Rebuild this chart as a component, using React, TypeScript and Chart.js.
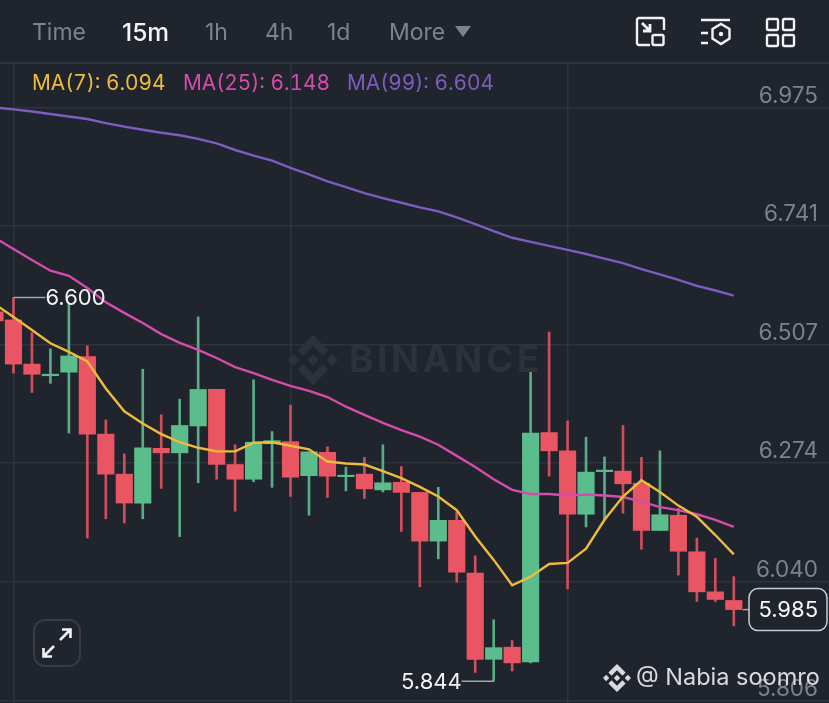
import React, { useEffect, useRef } from "react";
import { Chart, registerables } from "chart.js";

Chart.register(...registerables);

const candleIndex = [0,1,2,3,4,5,6,7,8,9,10,11,12,13,14,15,16,17,18,19,20,21,22,23,24,25,26,27,28,29,30,31,32,33,34,35,36,37,38,39,40];
const opens = [6.572,6.556,6.469,6.446,6.453,6.484,6.331,6.252,6.195,6.303,6.294,6.347,6.419,6.271,6.242,6.312,6.316,6.249,6.295,6.247,6.252,6.221,6.236,6.216,6.120,6.161,6.057,5.887,5.911,5.882,6.334,6.298,6.173,6.257,6.258,6.234,6.141,6.171,6.099,6.020,6.003];
const closes = [6.554,6.469,6.449,6.449,6.485,6.331,6.252,6.195,6.304,6.294,6.348,6.419,6.271,6.242,6.315,6.318,6.246,6.296,6.248,6.250,6.223,6.235,6.216,6.120,6.161,6.059,5.887,5.910,5.880,6.333,6.298,6.173,6.256,6.260,6.233,6.141,6.172,6.100,6.020,6.005,5.985];
const highs = [6.585,6.600,6.531,6.499,6.589,6.505,6.359,6.292,6.459,6.369,6.400,6.562,6.419,6.310,6.438,6.336,6.388,6.296,6.306,6.266,6.285,6.310,6.267,6.216,6.226,6.178,6.091,5.965,5.924,6.456,6.532,6.357,6.325,6.286,6.348,6.285,6.298,6.185,6.126,6.086,6.050];
const lows = [6.546,6.451,6.413,6.431,6.333,6.126,6.164,6.156,6.164,6.224,6.129,6.235,6.242,6.179,6.237,6.226,6.208,6.171,6.206,6.219,6.204,6.217,6.139,6.030,6.085,6.039,5.861,5.844,5.864,5.880,6.248,6.026,6.148,6.162,6.175,6.104,6.141,6.053,6.001,6.001,5.953];
const ma7 = [6.587,6.562,6.536,6.510,6.493,6.474,6.421,6.376,6.352,6.331,6.315,6.304,6.297,6.297,6.314,6.315,6.308,6.301,6.277,6.273,6.271,6.258,6.244,6.227,6.208,6.181,6.129,6.083,6.033,6.050,6.075,6.077,6.105,6.162,6.208,6.240,6.217,6.190,6.168,6.132,6.094];
const ma25 = [6.718,6.696,6.674,6.653,6.643,6.619,6.591,6.570,6.550,6.528,6.511,6.497,6.481,6.463,6.451,6.438,6.426,6.416,6.404,6.385,6.369,6.353,6.339,6.326,6.310,6.288,6.266,6.242,6.221,6.213,6.213,6.210,6.212,6.210,6.207,6.198,6.187,6.181,6.173,6.162,6.148];
const ma99 = [6.975,6.971,6.967,6.962,6.957,6.952,6.944,6.937,6.931,6.925,6.920,6.913,6.904,6.891,6.880,6.870,6.856,6.843,6.829,6.818,6.806,6.796,6.787,6.778,6.770,6.758,6.745,6.731,6.718,6.710,6.702,6.694,6.686,6.677,6.668,6.656,6.646,6.635,6.623,6.614,6.604];
const priceTicks = [5.806, 6.04, 6.274, 6.507, 6.741, 6.975];
const timeGridLines = [1, 16, 31];
const timeframes = ["Time", "15m", "1h", "4h", "1d", "More"];
const timeframeLefts = [32, 122, 205, 265, 327, 389];
const legendItems = ["MA(7): 6.094", "MA(25): 6.148", "MA(99): 6.604"];
const legendLefts = [32, 183, 347];

const FONT = "Inter, Roboto, sans-serif";
const BG = "#1f242d";
const GRID = "#2e333d";
const UP = "#5bbd8c";
const DOWN = "#e95563";
const UP_WICK = "#57ae84";
const DOWN_WICK = "#cf4f5c";
const YELLOW = "#eebb3c";
const PINK = "#d54cac";
const PURPLE = "#7e5cc0";
const legendColors = [YELLOW, PINK, PURPLE];

const highIdx = 1;
const lowIdx = 27;
const lastIdx = 40;

const markers = {
  id: "markers",
  afterDatasetsDraw(chart: any) {
    const { ctx, scales } = chart;
    const xs = scales.x;
    const ys = scales.y;
    ctx.save();
    ctx.font = `22px ${FONT}`;
    ctx.textBaseline = "middle";
    ctx.lineWidth = 1.5;

    // highest price
    const hx = xs.getPixelForValue(highIdx);
    const hy = ys.getPixelForValue(highs[highIdx]);
    ctx.strokeStyle = "#a3a7ad";
    ctx.beginPath();
    ctx.moveTo(hx, hy);
    ctx.lineTo(hx + 32, hy);
    ctx.stroke();
    ctx.fillStyle = "#f2f3f4";
    ctx.textAlign = "left";
    ctx.fillText(highs[highIdx].toFixed(3), hx + 32, hy + 1);

    // lowest price
    const lx = xs.getPixelForValue(lowIdx);
    const ly = ys.getPixelForValue(lows[lowIdx]);
    ctx.beginPath();
    ctx.moveTo(lx, ly);
    ctx.lineTo(lx - 32, ly);
    ctx.stroke();
    ctx.textAlign = "right";
    ctx.fillText(lows[lowIdx].toFixed(3), lx - 32, ly + 1);

    // last price tag
    const py = ys.getPixelForValue(closes[lastIdx]);
    ctx.beginPath();
    ctx.moveTo(xs.getPixelForValue(lastIdx) + 9, py);
    ctx.lineTo(749, py);
    ctx.stroke();
    ctx.beginPath();
    ctx.roundRect(749, py - 21, 78, 42, 9);
    ctx.fillStyle = BG;
    ctx.fill();
    ctx.strokeStyle = "#c9ccd0";
    ctx.stroke();
    ctx.fillStyle = "#f7f8f8";
    ctx.textAlign = "right";
    ctx.fillText(closes[lastIdx].toFixed(3), 818, py + 1);
    ctx.restore();
  },
};

function BinanceMark({ size, color }: { size: number; color: string }) {
  return (
    <svg width={size} height={size} viewBox="0 0 126.61 126.61" style={{ display: "block" }}>
      <path
        fill={color}
        d="M38.73 53.2l24.59-24.58 24.6 24.6 14.3-14.31L63.32 0 24.42 38.9zM0 63.31l14.3-14.31 14.31 14.31-14.31 14.3zM38.73 73.41l24.59 24.59 24.6-24.6 14.31 14.29-38.9 38.91-38.91-38.88zM98 63.31l14.3-14.31 14.31 14.3-14.31 14.32zM77.83 63.3L63.32 48.78 52.59 59.51l-1.24 1.23-2.54 2.54 14.51 14.5 14.51-14.47z"
      />
    </svg>
  );
}

const abs = (left: number, top: number, extra: React.CSSProperties = {}): React.CSSProperties => ({
  position: "absolute",
  left,
  top,
  whiteSpace: "nowrap",
  ...extra,
});

export default function App() {
  const ref = useRef<HTMLCanvasElement | null>(null);

  useEffect(() => {
    if (!ref.current) return;
    const wickData = candleIndex.map((i) => ({ x: i, y: [lows[i], highs[i]] }));
    const bodyData = candleIndex.map((i) => ({
      x: i,
      y: [Math.min(opens[i], closes[i]), Math.max(opens[i], closes[i])],
    }));
    const isUp = (i: number) => closes[i] >= opens[i];
    const lineData = (arr: number[]) => candleIndex.map((i) => ({ x: i, y: arr[i] }));
    const lineStyle = (color: string) => ({
      type: "line" as const,
      borderColor: color,
      borderWidth: 2.4,
      pointRadius: 0,
      tension: 0,
      order: 1,
    });

    const chart = new Chart(ref.current, {
      type: "bar",
      data: {
        datasets: [
          { label: "MA(7)", data: lineData(ma7), ...lineStyle(YELLOW) } as any,
          { label: "MA(25)", data: lineData(ma25), ...lineStyle(PINK) } as any,
          { label: "MA(99)", data: lineData(ma99), ...lineStyle(PURPLE) } as any,
          {
            label: "Body",
            data: bodyData,
            backgroundColor: candleIndex.map((i) => (isUp(i) ? UP : DOWN)),
            barThickness: 16.5,
            grouped: false,
            order: 2,
          } as any,
          {
            label: "Wick",
            data: wickData,
            backgroundColor: candleIndex.map((i) => (isUp(i) ? UP_WICK : DOWN_WICK)),
            barThickness: 2,
            grouped: false,
            order: 3,
          } as any,
        ],
      },
      options: {
        responsive: false,
        animation: false,
        devicePixelRatio: 1,
        layout: { padding: { top: 63, left: 0, right: 0, bottom: 0 } },
        plugins: { legend: { display: false }, tooltip: { enabled: false } },
        scales: {
          x: {
            type: "linear",
            min: 0.2707,
            max: 45.154,
            offset: false,
            afterBuildTicks: (axis: any) => {
              axis.ticks = timeGridLines.map((value) => ({ value }));
            },
            afterFit: (axis: any) => {
              axis.height = 0;
              axis.paddingLeft = 0;
              axis.paddingRight = 0;
              axis.paddingTop = 0;
              axis.paddingBottom = 0;
            },
            ticks: { display: false },
            border: { display: false },
            grid: { color: GRID, lineWidth: 1.5, drawTicks: false, offset: false },
          },
          y: {
            type: "linear",
            position: "right",
            min: 5.8009,
            max: 7.0625,
            afterBuildTicks: (axis: any) => {
              axis.ticks = priceTicks.map((value) => ({ value }));
            },
            afterFit: (axis: any) => {
              axis.width = 0;
              axis.paddingLeft = 0;
              axis.paddingRight = 0;
              axis.paddingTop = 0;
              axis.paddingBottom = 0;
            },
            ticks: {
              mirror: true,
              padding: -11,
              labelOffset: -11.5,
              autoSkip: false,
              color: "#7d838c",
              font: { family: FONT, size: 22.5 },
              callback: (v: any) => Number(v).toFixed(3),
            },
            border: { display: false },
            grid: { color: GRID, lineWidth: 1.5, drawTicks: false, offset: false },
          },
        },
      },
      plugins: [markers],
    });
    return () => chart.destroy();
  }, []);

  return (
    <div style={{ position: "fixed", left: 0, top: 0, width: 829, height: 703, background: BG, overflow: "hidden", fontFamily: FONT }}>
      <canvas ref={ref} width={829} height={703} style={{ position: "absolute", left: 0, top: 0, display: "block" }} />

      <div style={abs(0, 62, { width: 829, height: 1.5, background: GRID })} />

      {timeframes.map((t, i) => (
        <div
          key={t}
          style={abs(timeframeLefts[i], 18, {
            fontSize: t === "15m" ? 24.5 : 23,
            lineHeight: "28px",
            color: t === "15m" ? "#f4f5f6" : "#7d838c",
            fontWeight: t === "15m" ? 500 : 400,
          })}
        >
          {t}
        </div>
      ))}
      <svg style={abs(455, 26)} width={16} height={11}>
        <path d="M0 0H16L8 11Z" fill="#7d838c" />
      </svg>

      <svg style={abs(632, 14)} width={36} height={36} fill="none" stroke="#f1f2f3" strokeWidth={2.4}>
        <path d="M18 31H7a2 2 0 0 1-2-2V6a2 2 0 0 1 2-2h23a2 2 0 0 1 2 2v10" />
        <rect x={20.5} y={21} width={11} height={10} rx={1.5} />
        <path d="M10 9l8 8M18 10v7h-7" strokeWidth={2.8} />
      </svg>
      <svg style={abs(697, 14)} width={36} height={36} fill="none" stroke="#f1f2f3" strokeWidth={2.4}>
        <path d="M4 6H33M4 19H11M4 29H11" />
        <path d="M24 10l8.5 5v9.5L24 30l-8.5-5.5V15Z" />
        <circle cx={24} cy={20} r={2.2} fill="#f1f2f3" stroke="none" />
      </svg>
      <svg style={abs(762, 14)} width={36} height={36} fill="none" stroke="#f1f2f3" strokeWidth={2.4}>
        <rect x={5} y={5} width={11} height={11} rx={1.5} />
        <rect x={21} y={5} width={11} height={11} rx={1.5} />
        <rect x={5} y={21} width={11} height={11} rx={1.5} />
        <rect x={21} y={21} width={11} height={11} rx={1.5} />
      </svg>

      {legendItems.map((t, i) => (
        <div
          key={t}
          style={abs(legendLefts[i], 70, {
            fontSize: 20.8,
            lineHeight: "26px",
            color: legendColors[i],
            fontVariantNumeric: "tabular-nums",
          })}
        >
          {t}
        </div>
      ))}

      <div style={abs(288, 335)}>
        <BinanceMark size={50} color="#2c313b" />
      </div>
      <div style={abs(349, 336, { fontSize: 37, lineHeight: "45px", fontWeight: 700, letterSpacing: 3.6, color: "#2c313b" })}>
        BINANCE
      </div>

      <svg style={abs(33, 619)} width={48} height={48} fill="none">
        <rect x={1} y={1} width={46} height={46} rx={11} stroke="#363b45" strokeWidth={2} />
        <path d="M27 21L37 11M29 10.5H37.5V19M21 27L11 37M10.5 29V37.5H19" stroke="#f1f2f3" strokeWidth={2.6} />
      </svg>

      <div style={abs(603, 664)}>
        <BinanceMark size={28} color="#d8dadd" />
      </div>
      <div style={abs(636, 662, { fontSize: 23.5, lineHeight: "30px", color: "#d8dadd" })}>@ Nabia soomro</div>
    </div>
  );
}
